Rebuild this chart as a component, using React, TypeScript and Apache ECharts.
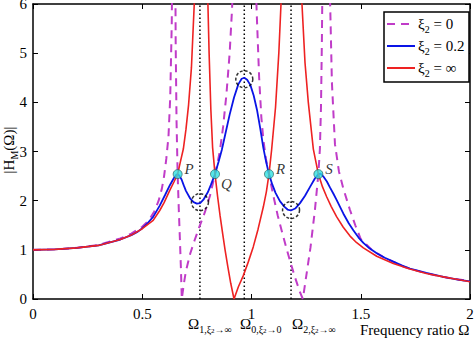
import React, { useEffect, useRef } from 'react';
import * as echarts from 'echarts';

const xTicks = [0, 0.5, 1, 1.5, 2];
const yTicks = [0, 1, 2, 3, 4, 5, 6];

// xi2 = 0 (undamped) : |H_M|
const undamped: number[][] = [
  [0, 1.0], [0.1, 1.01], [0.2, 1.04], [0.3, 1.1], [0.4, 1.23], [0.45, 1.33], [0.5, 1.47],
  [0.53, 1.6], [0.555, 1.78], [0.575, 2.0], [0.59, 2.25], [0.6, 2.5], [0.61, 2.85], [0.62, 3.3],
  [0.628, 4.1], [0.635, 5.6], [0.639, 7.5], [0.643, 14], [0.647, 14], [0.65, 8], [0.653, 5.2],
  [0.657, 3.6], [0.662, 2.54], [0.667, 1.85], [0.672, 1.25], [0.677, 0.62], [0.681, 0],
  [0.69, 0.3], [0.7, 0.57], [0.72, 0.93], [0.74, 1.2], [0.76, 1.45], [0.787, 1.77], [0.81, 2.1],
  [0.833, 2.54], [0.845, 2.78], [0.856, 3.03], [0.87, 3.5], [0.885, 4.15], [0.9, 5.0], [0.911, 5.9],
  [0.925, 7.7], [0.94, 12], [0.955, 25], [0.98, 25], [0.99, 16], [1.0, 10.5], [1.01, 7.9],
  [1.024, 5.8], [1.035, 4.5], [1.045, 3.7], [1.054, 3.25], [1.066, 2.85], [1.08, 2.54], [1.1, 2.1],
  [1.12, 1.7], [1.14, 1.36], [1.16, 1.03], [1.18, 0.72], [1.2, 0.43], [1.22, 0.16], [1.235, 0],
  [1.25, 0.45], [1.27, 1.05], [1.29, 1.8], [1.306, 2.54], [1.313, 3.05], [1.318, 3.9], [1.322, 5.2],
  [1.326, 7], [1.332, 12], [1.338, 30], [1.345, 30], [1.35, 14], [1.355, 8.2], [1.359, 6.2],
  [1.368, 4.4], [1.382, 3.15], [1.4, 2.6], [1.42, 2.25], [1.45, 1.82], [1.475, 1.5], [1.5, 1.22],
  [1.55, 1.0], [1.6, 0.86], [1.7, 0.65], [1.8, 0.52], [1.9, 0.43], [2.0, 0.36],
];

// xi2 = 0.2
const damped: number[][] = [
  [0, 1.0], [0.1, 1.01], [0.2, 1.04], [0.3, 1.09], [0.4, 1.21], [0.45, 1.3], [0.48, 1.37],
  [0.5, 1.44], [0.52, 1.52], [0.55, 1.67], [0.58, 1.9], [0.605, 2.12], [0.627, 2.32], [0.645, 2.46],
  [0.655, 2.52], [0.662, 2.54], [0.67, 2.51], [0.68, 2.43], [0.69, 2.31], [0.7, 2.2], [0.72, 2.04],
  [0.735, 1.97], [0.75, 1.94], [0.765, 1.95], [0.78, 2.02], [0.8, 2.17], [0.815, 2.33], [0.833, 2.54],
  [0.85, 2.8], [0.864, 3.03], [0.88, 3.35], [0.9, 3.75], [0.92, 4.1], [0.94, 4.37], [0.955, 4.48],
  [0.967, 4.5], [0.98, 4.46], [0.995, 4.35], [1.01, 4.14], [1.025, 3.85], [1.04, 3.47], [1.054, 3.08],
  [1.067, 2.79], [1.08, 2.54], [1.095, 2.33], [1.11, 2.16], [1.13, 1.99], [1.15, 1.88], [1.165, 1.82],
  [1.18, 1.8], [1.2, 1.84], [1.222, 1.95], [1.245, 2.1], [1.268, 2.28], [1.29, 2.45], [1.306, 2.54],
  [1.316, 2.55], [1.329, 2.49], [1.345, 2.39], [1.359, 2.27], [1.375, 2.14], [1.39, 2.01], [1.42, 1.74],
  [1.445, 1.54], [1.466, 1.4], [1.49, 1.25], [1.512, 1.14], [1.54, 1.03], [1.573, 0.93], [1.61, 0.84],
  [1.649, 0.76], [1.69, 0.68], [1.725, 0.62], [1.8, 0.53], [1.878, 0.45], [1.95, 0.39], [2.0, 0.36],
];

// xi2 = infinity
const infinite: number[][] = [
  [0, 1.0], [0.1, 1.01], [0.2, 1.04], [0.3, 1.09], [0.4, 1.21], [0.45, 1.3], [0.5, 1.43],
  [0.55, 1.6], [0.58, 1.8], [0.6, 1.96], [0.627, 2.22], [0.645, 2.38], [0.662, 2.54], [0.675, 2.8],
  [0.688, 3.05], [0.7, 3.45], [0.712, 3.95], [0.725, 4.7], [0.738, 6.0], [0.75, 8.2], [0.758, 11],
  [0.764, 16], [0.775, 27], [0.785, 11], [0.795, 7.2], [0.8, 6.1], [0.806, 5.0], [0.814, 3.85],
  [0.822, 3.08], [0.833, 2.54], [0.845, 2.08], [0.856, 1.7], [0.868, 1.33], [0.879, 1.0],
  [0.892, 0.65], [0.905, 0.32], [0.92, 0], [0.94, 0.25], [0.962, 0.47], [0.985, 0.75], [1.008, 1.06],
  [1.03, 1.42], [1.054, 1.87], [1.068, 2.18], [1.08, 2.54], [1.092, 3.03], [1.11, 3.9], [1.125, 5.0],
  [1.135, 6.0], [1.15, 8.5], [1.165, 15], [1.175, 40], [1.19, 40], [1.2, 16], [1.21, 10], [1.22, 7.5],
  [1.231, 6.0], [1.245, 4.8], [1.26, 4.0], [1.283, 3.05], [1.306, 2.54], [1.325, 2.28], [1.344, 2.08],
  [1.365, 1.88], [1.39, 1.67], [1.42, 1.46], [1.451, 1.28], [1.48, 1.15], [1.512, 1.04], [1.573, 0.87],
  [1.649, 0.72], [1.725, 0.61], [1.8, 0.52], [1.878, 0.45], [1.95, 0.39], [2.0, 0.35],
];

const fixedPointNames = ['P', 'Q', 'R', 'S'];
const fixedPointX = [0.662, 0.833, 1.08, 1.306];
const fixedPointY = [2.54, 2.54, 2.54, 2.54];
const fixedPointLabelOffset = [[0, -5], [-1, 10], [0, -5], [0, -5]];

const extremaX = [0.764, 0.967, 1.181];
const extremaY = [1.97, 4.47, 1.81];

const dottedFreqs = [0.764, 0.967, 1.181];

const legendNames = ['0', '0.2', '∞'];

const SERIF = 'Liberation Serif';
const MAGENTA = '#c03cc8';
const BLUE = '#0a14e6';
const RED = '#ee2222';

export default function App() {
  const ref = useRef<HTMLDivElement>(null);
  useEffect(() => {
    if (!ref.current) return;
    const chart = echarts.init(ref.current, undefined, { renderer: 'svg' });

    const axisCommon = {
      axisLine: { show: true, onZero: false, lineStyle: { color: '#000', width: 1.5 } },
      axisTick: { show: true, inside: true, length: 5, lineStyle: { color: '#000', width: 1 } },
      splitLine: { show: false },
    };

    const sub = { fontSize: 10, fontFamily: SERIF, lineHeight: 10, verticalAlign: 'bottom', color: '#000' };
    const subsub = { fontSize: 7, fontFamily: SERIF, lineHeight: 4, verticalAlign: 'bottom', color: '#000' };
    const main = { fontSize: 15, fontFamily: SERIF, lineHeight: 20, color: '#000' };

    const legendRows = [24, 46, 68];
    const legendColors = [MAGENTA, BLUE, RED];
    const legendDash: any[] = [[8, 6], null, null];

    const graphics: any[] = [
      {
        type: 'rect', shape: { x: 384, y: 12, width: 85, height: 70 },
        style: { fill: '#fff', stroke: '#000', lineWidth: 1.5 }, z: 100,
      },
    ];
    legendRows.forEach((ry, i) => {
      graphics.push({
        type: 'line', shape: { x1: 387, y1: ry, x2: 415, y2: ry },
        style: { stroke: legendColors[i], lineWidth: 2, lineDash: legendDash[i] || undefined }, z: 101,
      });
      graphics.push({
        type: 'text', x: 418, y: ry, z: 101,
        style: {
          text: `{a|ξ}{b|2}{a| = ${legendNames[i]}}`,
          rich: { a: main, b: sub },
          verticalAlign: 'middle', align: 'left',
        },
      });
    });
    const omegaLabels = [
      { x: 188, i: '1', s: '∞' },
      { x: 240, i: '0', s: '0' },
      { x: 292, i: '2', s: '∞' },
    ];
    omegaLabels.forEach((o) => {
      graphics.push({
        type: 'text', x: o.x, y: 324, z: 101,
        style: {
          text: `{m|Ω}{s|${o.i},ξ}{t|2}{s|→${o.s}}`,
          rich: { m: main, s: sub, t: subsub },
          verticalAlign: 'middle', align: 'left',
        },
      });
    });
    graphics.push({
      type: 'text', x: 360, y: 330, z: 101,
      style: { text: 'Frequency ratio Ω', fontSize: 15, fontFamily: SERIF, fill: '#000', verticalAlign: 'middle', align: 'left' },
    });
    // y-axis title
    graphics.push({
      type: 'text', x: 9, y: 150, rotation: Math.PI / 2, z: 101,
      style: {
        text: '{a||H}{b|M}{a|(Ω)|}',
        rich: { a: main, b: sub },
        verticalAlign: 'middle', align: 'center',
      },
    });

    const series: any[] = [];
    dottedFreqs.forEach((f) => {
      series.push({
        type: 'line', data: [[f, yTicks[0]], [f, yTicks[yTicks.length - 1]]], symbol: 'none',
        lineStyle: { color: '#000', width: 1.5, type: [1.5, 2.5] }, z: 1, silent: true,
      });
    });
    series.push({
      name: 'xi0', type: 'line', data: undamped, symbol: 'none', clip: true,
      lineStyle: { color: MAGENTA, width: 2, type: [8, 6] }, z: 2,
    });
    series.push({
      name: 'xi02', type: 'line', data: damped, symbol: 'none', clip: true,
      lineStyle: { color: BLUE, width: 1.8 }, z: 3,
    });
    series.push({
      name: 'xiInf', type: 'line', data: infinite, symbol: 'none', clip: true,
      lineStyle: { color: RED, width: 1.6 }, z: 4,
    });
    series.push({
      type: 'scatter', symbol: 'circle', symbolSize: 17, z: 5,
      data: extremaX.map((x, i) => [x, extremaY[i]]),
      itemStyle: { color: 'rgba(0,0,0,0)', borderColor: '#000', borderWidth: 1.5, borderType: [3, 2] },
    });
    series.push({
      type: 'scatter', symbol: 'circle', symbolSize: 9, z: 6,
      data: fixedPointNames.map((n, i) => ({
        name: n, value: [fixedPointX[i], fixedPointY[i]],
        label: { offset: fixedPointLabelOffset[i] },
      })),
      itemStyle: { color: '#2fe0e0', borderColor: '#225555', borderWidth: 0.8 },
      label: {
        show: true, formatter: '{b}', position: 'right', distance: 2,
        fontFamily: SERIF, fontStyle: 'italic', fontSize: 15, color: '#000',
      },
    });

    chart.setOption({
      animation: false,
      backgroundColor: '#fff',
      textStyle: { fontFamily: SERIF },
      grid: { left: 33, right: 4, top: 4, bottom: 41, containLabel: false, outerBoundsMode: 'none' },
      xAxis: [
        {
          type: 'value', min: xTicks[0], max: xTicks[xTicks.length - 1], interval: xTicks[1] - xTicks[0],
          position: 'bottom', ...axisCommon,
          axisLabel: { show: true, margin: 7, fontFamily: SERIF, fontSize: 15, color: '#000' },
        },
        {
          type: 'value', min: xTicks[0], max: xTicks[xTicks.length - 1], interval: xTicks[1] - xTicks[0],
          position: 'top', ...axisCommon, axisLabel: { show: false },
        },
      ],
      yAxis: [
        {
          type: 'value', min: yTicks[0], max: yTicks[yTicks.length - 1], interval: 1,
          position: 'left', ...axisCommon,
          axisLabel: { show: true, margin: 6, fontFamily: SERIF, fontSize: 15, color: '#000' },
        },
        {
          type: 'value', min: yTicks[0], max: yTicks[yTicks.length - 1], interval: 1,
          position: 'right', ...axisCommon, axisLabel: { show: false },
        },
      ],
      series,
      graphic: graphics,
    });
    return () => chart.dispose();
  }, []);
  return <div ref={ref} style={{ position: 'fixed', left: 0, top: 0, width: 474, height: 340 }} />;
}
